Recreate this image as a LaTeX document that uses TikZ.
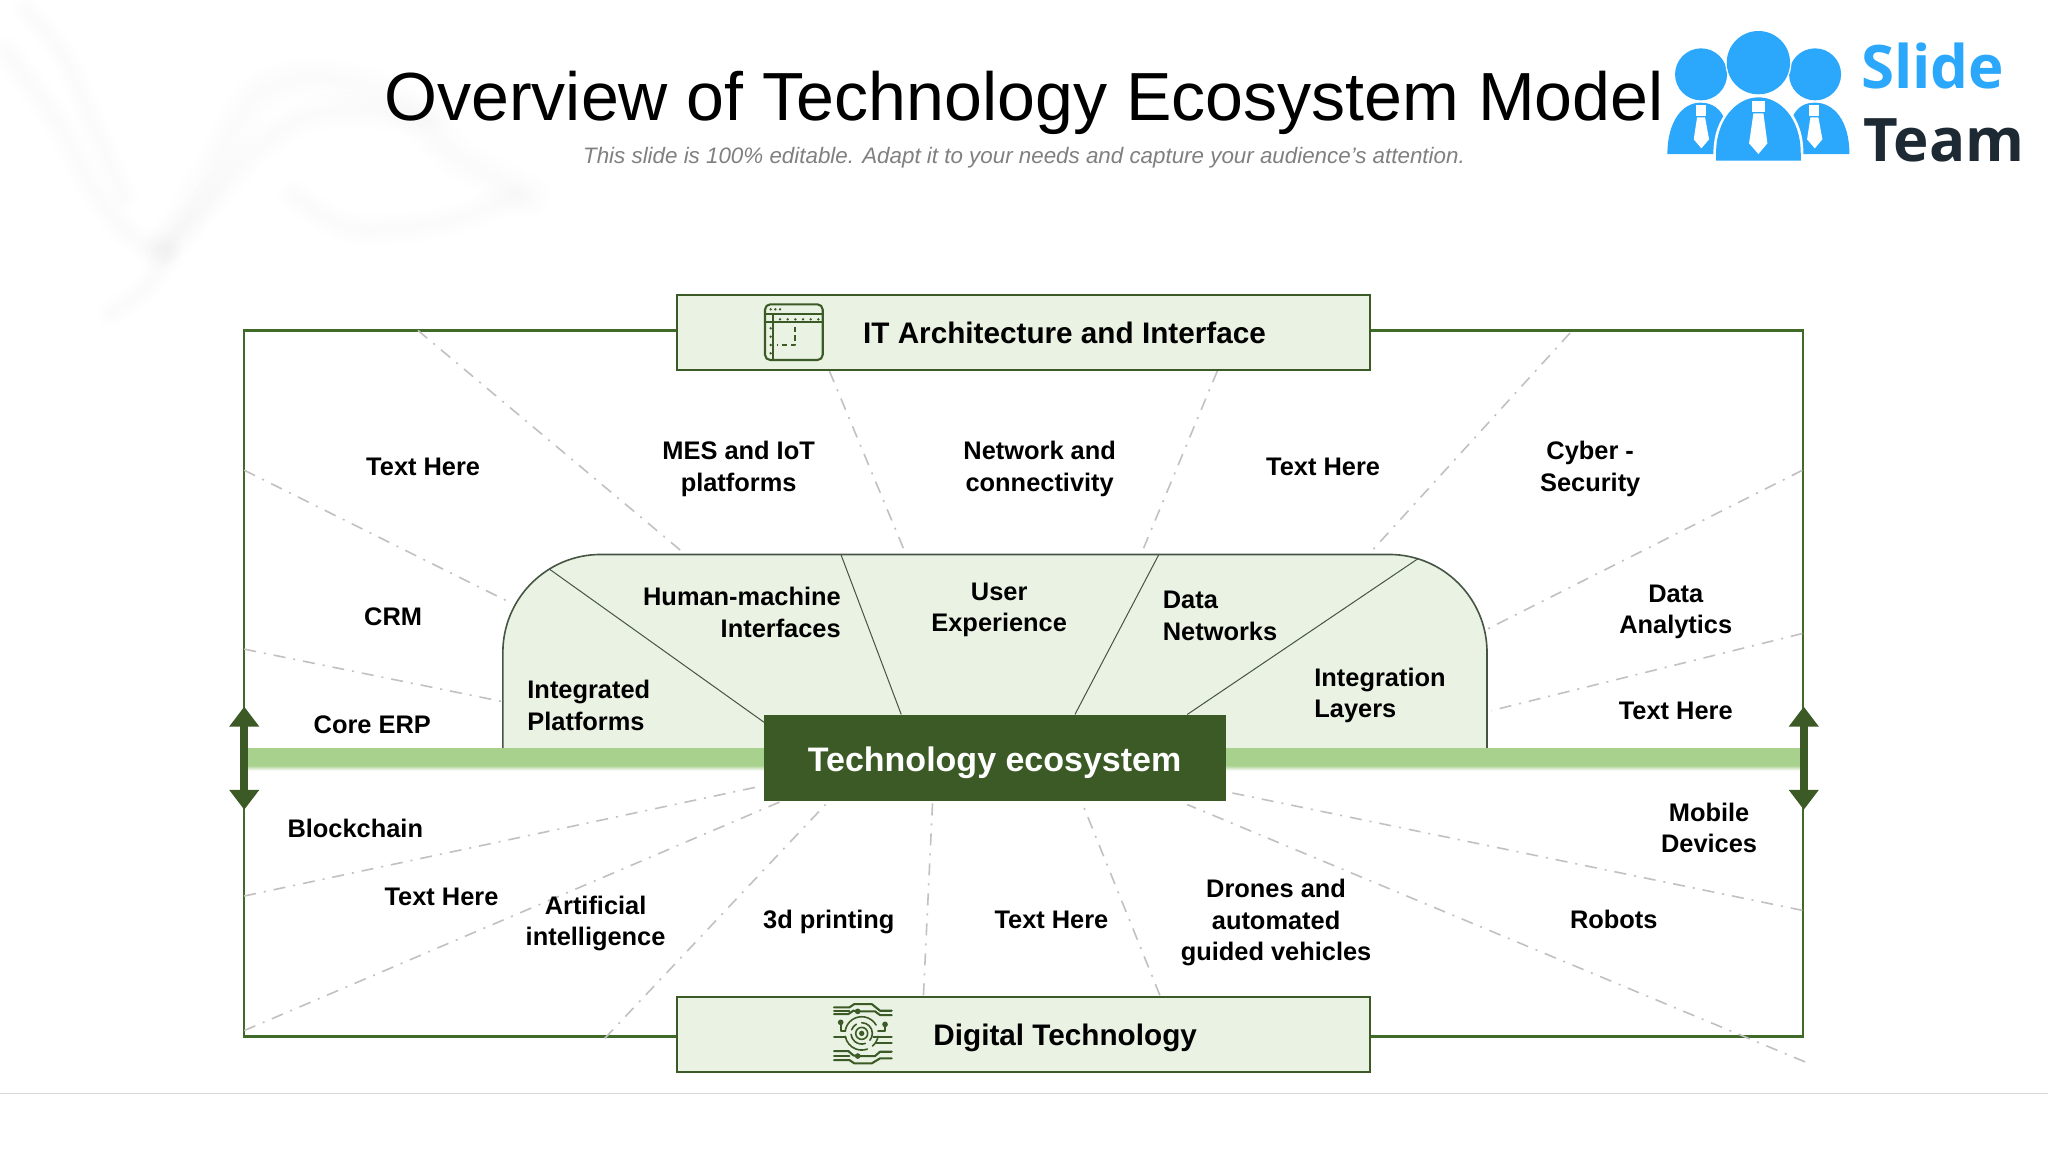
\documentclass[tikz,border=0pt]{standalone}
\usepackage{fontspec}
\setmainfont{Liberation Sans}
\newfontfamily\logofont{Open Sans}
\usetikzlibrary{arrows.meta,shapes.geometric}
\definecolor{frameg}{HTML}{3F6A28}
\definecolor{darkg}{HTML}{3B5A26}
\definecolor{paleg}{HTML}{E9F2E3}
\definecolor{bandg}{HTML}{A9D18E}
\definecolor{dashg}{HTML}{C4BFC0}
\definecolor{archl}{HTML}{465443}
\definecolor{logob}{HTML}{2BA8FB}
\definecolor{logod}{HTML}{1E2A33}
\newcommand{\smokepath}[2]{%
  \foreach \f in {1,0.75,0.5,0.25}{
    \draw[black,opacity=0.005,line cap=round,line join=round,line width=\f*#1] plot[smooth] coordinates {#2};
  }
}
\tikzset{
  lab/.style={font=\fontsize{12.7}{15.7}\selectfont\bfseries,text=black,inner sep=0pt,align=center},
  labl/.style={lab,align=left,anchor=west},
  labr/.style={lab,align=right,anchor=east},
  dashline/.style={draw=dashg,line width=0.8pt,dash pattern=on 6pt off 4pt on 1pt off 4pt},
  innerline/.style={draw=archl,line width=0.5pt},
  headbox/.style={draw=darkg,fill=paleg,line width=1pt},
  dblarrow/.style={darkg,line width=3.8pt,{Triangle[length=10pt,width=14.4pt]}-{Triangle[length=10pt,width=14.4pt]}},
  iconline/.style={draw=darkg,line width=1.05pt,line cap=round,line join=round},
  ringline/.style={iconline,line width=0.8pt},
}
\begin{document}
\begin{tikzpicture}[x=0.65306pt,y=-0.65306pt]
\useasboundingbox (0,0) rectangle (1568,882);
\fill[white] (0,0) rectangle (1568,882);
% background smoke
\smokepath{16pt}{(5,40) (45,95) (72,145) (100,180) (128,190)}
\smokepath{14pt}{(20,8) (50,45) (75,105) (95,150)}
\smokepath{22pt}{(128,190) (160,135) (195,75) (240,60) (300,75) (350,120) (405,150)}
\smokepath{18pt}{(118,195) (150,165) (200,110) (250,85) (330,90)}
\smokepath{14pt}{(85,240) (112,220) (128,195)}
\smokepath{16pt}{(225,150) (270,175) (340,170) (395,150)}
% bottom rule
\coordinate (ruleL) at (0,837); \coordinate (ruleR) at (1568,837);
\draw[draw=black!15,line width=0.6pt] (ruleL) -- (ruleR);
% title
\node[font=\fontsize{34.05}{40}\selectfont,inner sep=0pt] (title) at (784,78.5) {Overview of Technology Ecosystem Model};
\node[font=\fontsize{11.18}{14}\selectfont\itshape,text=black!50,inner sep=0pt] (subtitle) at (784,121) {This slide is 100\% editable. Adapt it to your needs and capture your audience's attention.};
% frame
\coordinate (frTL) at (187,253); \coordinate (frBR) at (1380.5,793.5);
\draw[draw=frameg,line width=1.1pt] (frTL) rectangle (frBR);
% dashed spokes
\foreach \n/\ax/\ay/\bx/\by in {
  1/320/253/523/423, 2/635/284/693/423, 3/932/284/875/421, 4/1202/255/1051/421,
  5/1380/360/1138/482, 6/1380/485/1142/544, 7/187/360/392/462, 8/187/497/384/537,
  9/187/686/582/602, 10/187/789/597/614, 11/463/795/632/616, 12/707/762/714/614,
  13/888/762/829/616, 14/1382/813/909/616, 15/1380/697/938/606}{
  \coordinate (sa\n) at (\ax,\ay);
  \coordinate (sb\n) at (\bx,\by);
  \draw[dashline] (sa\n) -- (sb\n);
}
% arch
\draw[fill=paleg,draw=archl,line width=0.8pt,rounded corners=49pt] (385,574) -- (385,424.5) -- (1138.5,424.5) -- (1138.5,574);
% band
\shade[top color=bandg,bottom color=white] (190,586) rectangle (1378,590);
\fill[bandg] (190,573) rectangle (1378,586.5);
% inner lines
\coordinate (ilA) at (421,436); \coordinate (ilB) at (585,553);
\coordinate (ilC) at (644,425); \coordinate (ilD) at (690,547);
\coordinate (ilE) at (887,425); \coordinate (ilF) at (823,547);
\coordinate (ilG) at (1086,427.5); \coordinate (ilH) at (909,547);
\draw[innerline] (ilA) -- (ilB);
\draw[innerline] (ilC) -- (ilD);
\draw[innerline] (ilE) -- (ilF);
\draw[innerline] (ilG) -- (ilH);
% arrows
\coordinate (laT) at (187,541); \coordinate (laB) at (187,620);
\coordinate (raT) at (1381,541); \coordinate (raB) at (1381,620);
\draw[dblarrow] (laT) -- (laB);
\draw[dblarrow] (raT) -- (raB);
% boxes
\draw[headbox] (518.5,225.5) rectangle (1049,283);
\node[font=\fontsize{14.85}{18}\selectfont\bfseries,inner sep=0pt] (topt) at (815,255) {IT Architecture and Interface};
\draw[headbox] (518.5,763) rectangle (1049,821);
\node[font=\fontsize{14.85}{18}\selectfont\bfseries,inner sep=0pt] (bott) at (815.5,794.5) {Digital Technology};
\node[fill=darkg,minimum width=231pt,minimum height=43pt,inner sep=0pt] (core) at (761.5,580) {};
\node[font=\fontsize{17}{22}\selectfont\bfseries,text=white,inner sep=0pt] (coret) at (761.5,584) {Technology ecosystem};
% labels
\node[lab] (t1) at (324,357.5) {Text Here};
\node[lab] (t2) at (565.5,359) {MES and IoT\\platforms};
\node[lab] (t3) at (796,359) {Network and\\connectivity};
\node[lab] (t4) at (1013,357.5) {Text Here};
\node[lab] (t5) at (1217.5,359) {Cyber -\\Security};
\node[lab] (t6) at (1283,468.5) {Data\\Analytics};
\node[lab] (t7) at (1283,544.5) {Text Here};
\node[lab] (t8) at (1308.5,634) {Mobile\\Devices};
\node[lab] (t9) at (1235.5,704) {Robots};
\node[lab] (t10) at (977,706.5) {Drones and\\automated\\guided vehicles};
\node[lab] (t11) at (805,704) {Text Here};
\node[lab] (t12) at (634.5,706) {3d printing};
\node[lab] (t13) at (456,707) {Artificial\\intelligence};
\node[lab] (t14) at (338,686.5) {Text Here};
\node[lab] (t15) at (272,634.5) {Blockchain};
\node[lab] (t16) at (285,555) {Core ERP};
\node[lab] (t17) at (301,472) {CRM};
\node[labl] (t18) at (403.5,540) {Integrated\\Platforms};
\node[labr] (t19) at (644,469) {Human-machine\\Interfaces};
\node[lab] (t20) at (765,467) {User\\Experience};
\node[labl] (t21) at (890,471.5) {Data\\Networks};
\node[labl] (t22) at (1006,532.5) {Integration\\Layers};
% IT icon (zoom coordinates)
\begin{scope}[x=0.16667pt,y=-0.16667pt,shift={(2220,855)}]
  \draw[iconline,rounded corners=2.6pt] (75,58) rectangle (248,225);
  \draw[iconline] (75,88) -- (248,88);
  \draw[iconline] (75,112) -- (248,112);
  \draw[iconline] (100,88) -- (100,225);
  \foreach \x in {92,106,120} \fill[darkg] (\x,73) circle (4);
  \foreach \x in {120,143,166,189,212,235} \fill[darkg] (\x,103) circle (4);
  \foreach \y in {130,155,180,205} \fill[darkg] (92,\y) circle (4);
  \draw[iconline,line cap=butt,dash pattern=on 2.6pt off 1.8pt] (165,125) -- (165,180) -- (110,180);
\end{scope}
% digital icon (zoom coordinates)
\begin{scope}[x=0.16667pt,y=-0.16667pt,shift={(2430,2970)}]
  \fill[darkg] (155,130) circle (8);
  \draw[ringline] (155,130) circle (18);
  \draw[ringline] (155,130) ++(-90:32) arc (-90:40:32);
  \draw[ringline] (155,130) ++(70:32) arc (70:175:32);
  \draw[ringline] (155,130) ++(-160:32) arc (-160:-120:32);
  \draw[ringline] (155,130) ++(-170:50) arc (-170:-30:50);
  \draw[ringline] (155,130) ++(170:50) arc (170:70:50);
  \draw[ringline] (155,130) ++(50:50) arc (50:10:50);
  \draw[iconline] (72,52) -- (118,52) -- (133,42) -- (185,42) -- (210,62) -- (245,62);
  \draw[iconline] (72,62) -- (118,62);
  \draw[iconline] (72,72) -- (115,72) -- (130,62) -- (143,64);
  \draw[iconline] (143,64) -- (195,64) -- (210,75) -- (245,75);
  \fill[darkg] (143,64) circle (8.5);
  \fill[darkg] (92,97) circle (8.5);
  \fill[darkg] (225,103) circle (8.5);
  \draw[iconline] (92,97) -- (92,122) -- (106,122);
  \draw[iconline] (225,103) -- (225,122) -- (204,122);
  \draw[iconline] (72,140) -- (106,140);
  \draw[iconline] (190,140) -- (245,140);
  \draw[iconline] (198,160) -- (245,160);
  \draw[iconline] (72,183) -- (115,183) -- (130,196) -- (143,198);
  \draw[iconline] (72,197) -- (118,197);
  \draw[iconline] (72,210) -- (118,210) -- (133,220) -- (185,220) -- (210,205) -- (245,205);
  \draw[iconline] (143,198) -- (195,198) -- (210,185) -- (245,185);
  \fill[darkg] (143,198) circle (8.5);
\end{scope}
% logo (zoom coordinates)
\begin{scope}[x=0.16667pt,y=-0.16667pt,shift={(4950,30)}]
  \fill[logob] (153,193) circle (78);
  \fill[logob] (495,193) circle (78);
  \fill[white] (325,158) circle (99);
  \fill[logob] (325,158) circle (95);
  \fill[logob] (52,432) .. controls (52,330) and (100,278) .. (150,278) .. controls (200,278) and (240,310) .. (240,432) -- cycle;
  \fill[logob] (598,432) .. controls (598,330) and (550,278) .. (495,278) .. controls (445,278) and (410,310) .. (410,432) -- cycle;
  \fill[white] (190,456) -- (190,430) .. controls (190,320) and (260,254) .. (325,254) .. controls (395,254) and (460,320) .. (460,430) -- (460,456) -- cycle;
  \fill[logob] (198,452) -- (198,430) .. controls (198,325) and (262,262) .. (325,262) .. controls (390,262) and (452,325) .. (452,430) -- (452,452) -- cycle;
  \fill[white] (305,272) rectangle (345,305);
  \fill[white] (138,285) rectangle (168,318);
  \fill[white] (478,285) rectangle (508,318);
  \fill[white] (310,310) -- (340,310) -- (352,400) -- (325,432) -- (297,400) -- cycle;
  \fill[white] (141,322) -- (165,322) -- (177,388) -- (154,415) -- (131,388) -- cycle;
  \fill[white] (481,322) -- (505,322) -- (517,388) -- (494,415) -- (471,388) -- cycle;
  \node[anchor=base west,inner sep=0pt,font=\logofont\fontsize{30}{36}\selectfont\bfseries,text=logob] (lg1) at (632,234) {Slide};
  \node[anchor=base west,inner sep=0pt,font=\logofont\fontsize{30}{36}\selectfont\bfseries,text=logod] (lg2) at (638,454) {Team};
\end{scope}
\end{tikzpicture}
\end{document}
